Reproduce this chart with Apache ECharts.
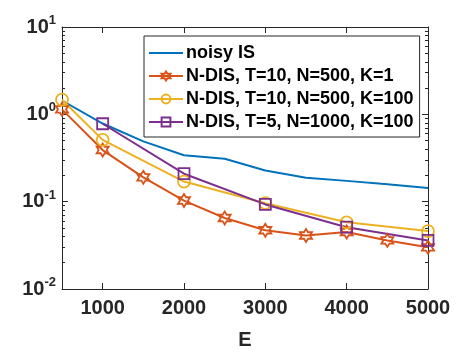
<!DOCTYPE html>
<html><head><meta charset="utf-8">
<script src="https://cdn.jsdelivr.net/npm/echarts@6/dist/echarts.min.js"></script>
<style>html,body{margin:0;padding:0;background:#fff}#c{width:474px;height:355px}</style>
</head><body><div id="c"></div>
<script>
var seriesNames = ['noisy IS','N-DIS, T=10, N=500, K=1','N-DIS, T=10, N=500, K=100','N-DIS, T=5, N=1000, K=100'];
var eNoisy = [500,1000,1500,2000,2500,3000,3500,4000,4500,5000];
var vNoisy = [1.44,0.785,0.49,0.34,0.31,0.227,0.188,0.173,0.158,0.143];
var eK1 = [500,1000,1500,2000,2500,3000,3500,4000,4500,5000];
var vK1 = [1.14,0.39,0.19,0.103,0.065,0.047,0.041,0.045,0.036,0.030];
var eK100 = [500,1000,2000,3000,4000,5000];
var vK100 = [1.47,0.51,0.17,0.096,0.058,0.046];
var eT5 = [1000,2000,3000,4000,5000];
var vT5 = [0.78,0.209,0.093,0.051,0.036];
var xTicks = [1000,2000,3000,4000,5000];
var yTicks = [0.01,0.1,1,10];
var colors = ['#0072BD','#D95319','#EDB120','#7E2F8E'];

var minorY = [];
for (var d = -2; d < 1; d++) { for (var m = 2; m <= 9; m++) minorY.push(m * Math.pow(10, d)); }

function pairs(xs, ys){ return xs.map(function(x,i){return [x, ys[i]];}); }
var hexagram = 'path://M50,0 L64.43,25 L93.3,25 L78.87,50 L93.3,75 L64.43,75 L50,100 L35.57,75 L6.7,75 L21.13,50 L6.7,25 L35.57,25 Z';
var font = 'Liberation Sans, Arial, Helvetica, sans-serif';
var axisCol = '#262626';

function yAxisDef(pos, minor, showLabel){
  return {
    type:'log', logBase:10, min:0.01, max:10, position:pos,
    axisLine:{show:!minor, lineStyle:{color:axisCol, width:1}},
    axisTick:{show:true, inside:true, length: minor?3:6, customValues: minor?minorY:yTicks, lineStyle:{color:axisCol, width:1}},
    axisLabel:{show:showLabel, margin:6, customValues: yTicks,
      formatter:function(v){ var e = Math.round(Math.log10(v)); return '{b|10}{s|' + e + '}'; },
      rich:{ b:{fontSize:20, fontWeight:'bold', color:axisCol, fontFamily:font},
             s:{fontSize:13, fontWeight:'bold', color:axisCol, fontFamily:font, padding:[0,0,13,0]} } },
    splitLine:{show:false}
  };
}
function xAxisDef(pos, showLabel){
  return {
    type:'value', min:500, max:5000, position:pos,
    name: showLabel ? 'E' : '', nameLocation:'middle', nameGap:41,
    nameTextStyle:{fontSize:20, fontWeight:'bold', color:axisCol, fontFamily:font},
    axisLine:{show:true, lineStyle:{color:axisCol, width:1}},
    axisTick:{show:true, inside:true, length:6, customValues:xTicks, lineStyle:{color:axisCol, width:1}},
    axisLabel:{show:showLabel, customValues:xTicks, margin:9, fontSize:20, fontWeight:'bold', color:axisCol, fontFamily:font,
      formatter:function(v){ return String(v); }},
    splitLine:{show:false}
  };
}

var chart = echarts.init(document.getElementById('c'), null, {renderer:'canvas'});
chart.setOption({
  animation:false,
  backgroundColor:'#fff',
  grid:{left:62, right:46, top:27, bottom:62, containLabel:false},
  xAxis:[xAxisDef('bottom', true), xAxisDef('top', false)],
  yAxis:[yAxisDef('left', false, true), yAxisDef('left', true, false), yAxisDef('right', false, false), yAxisDef('right', true, false)],
  legend:{
    orient:'vertical', left:144, top:36, width:275,
    data:seriesNames,
    itemWidth:34, itemHeight:11, itemGap:5,
    padding:[8,6,6,4],
    borderColor:axisCol, borderWidth:1, backgroundColor:'#fff',
    textStyle:{fontSize:18, fontWeight:'bold', color:'#000', fontFamily:font, padding:[0,0,0,-2]}
  },
  series:[
    {name:seriesNames[0], type:'line', data:pairs(eNoisy,vNoisy), symbol:'none',
     lineStyle:{color:colors[0], width:2}, itemStyle:{color:'rgba(0,0,0,0)', borderColor:'rgba(0,0,0,0)'}},
    {name:seriesNames[1], type:'line', data:pairs(eK1,vK1), symbol:hexagram, symbolSize:[12,13],
     lineStyle:{color:colors[1], width:2}, itemStyle:{color:'rgba(0,0,0,0)', borderColor:colors[1], borderWidth:1.8}},
    {name:seriesNames[2], type:'line', data:pairs(eK100,vK100), symbol:'circle', symbolSize:12,
     lineStyle:{color:colors[2], width:2}, itemStyle:{color:'rgba(0,0,0,0)', borderColor:colors[2], borderWidth:1.8}},
    {name:seriesNames[3], type:'line', data:pairs(eT5,vT5), symbol:'rect', symbolSize:11,
     lineStyle:{color:colors[3], width:2}, itemStyle:{color:'rgba(0,0,0,0)', borderColor:colors[3], borderWidth:1.8}}
  ]
});
</script></body></html>
